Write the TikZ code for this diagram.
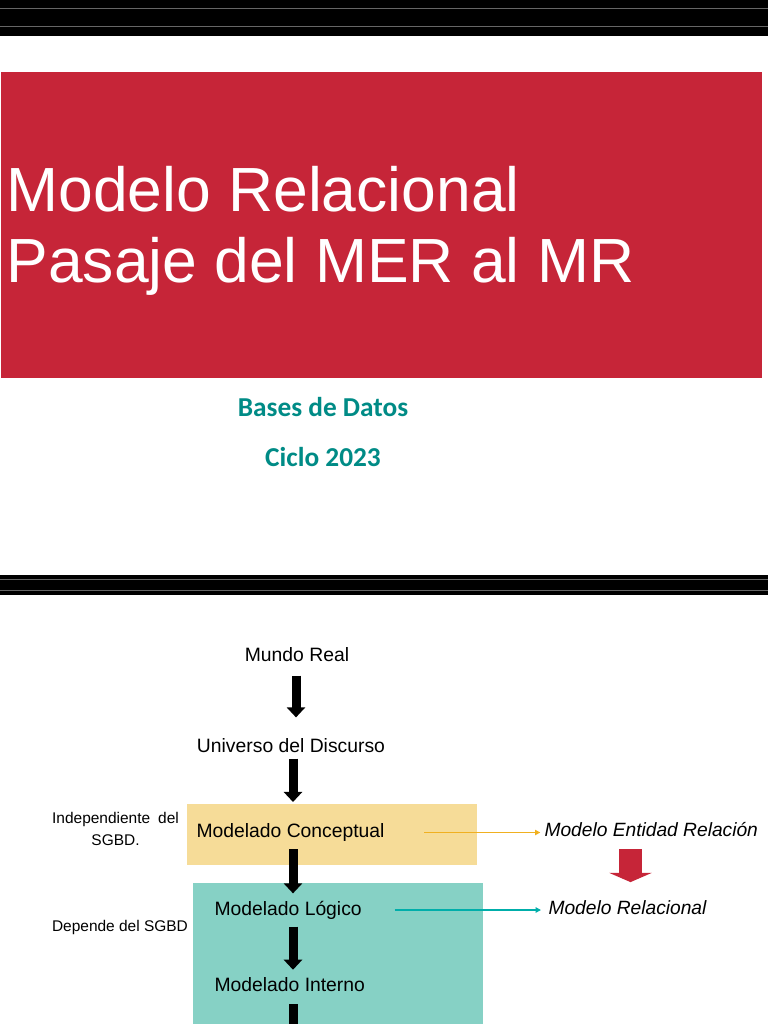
\documentclass[tikz,border=0pt]{standalone}
\usepackage{fontspec}
\setmainfont{Liberation Sans}
\newfontfamily\carlitofont{Carlito}
\usetikzlibrary{arrows.meta}

\definecolor{titlered}{RGB}{198,37,56}
\definecolor{titleteal}{RGB}{0,139,134}
\definecolor{boxyellow}{RGB}{246,220,152}
\definecolor{boxteal}{RGB}{134,209,197}
\definecolor{lineorange}{RGB}{240,176,32}
\definecolor{lineteal}{RGB}{0,174,170}

\tikzset{every picture/.style={line width=0.75pt}}
\tikzset{
  blockarrow/.style={line width=6.75pt,-{Triangle[width=13.5pt,length=7.5pt]}},
  redarrow/.style={line width=17pt,titlered,-{Triangle[width=32pt,length=7pt]}},
  thinarrow/.style={line width=1pt,-{Triangle[width=4pt,length=4pt]}},
  flowtext/.style={inner sep=0.75pt,font=\fontsize{14.5pt}{17pt}\selectfont},
  sidetext/.style={inner sep=0.75pt,font=\fontsize{11.6pt}{16.5pt}\selectfont,align=center},
  modeltext/.style={inner sep=0.75pt,font=\fontsize{14.4pt}{17pt}\selectfont\itshape},
  subtitletext/.style={inner sep=0.75pt,text=titleteal,font=\fontsize{20.5pt}{24pt}\selectfont\carlitofont\bfseries},
  titletext/.style={inner sep=0.75pt,text=white,align=left,font=\fontsize{46.8pt}{53.5pt}\selectfont},
  greyline/.style={line width=0.75pt,black!60!white}
}

\begin{document}
\begin{tikzpicture}[x=0.75pt,y=0.75pt,yscale=-1,xscale=1]
\useasboundingbox (0,0) rectangle (768,1024);
\clip (0,0) rectangle (768,1024);

%Shape: Rectangle [bars] 
\fill [black] (0,0) rectangle (768,36);
\draw [greyline] (0,8.5) -- (768,8.5);
\draw [greyline] (0,26.5) -- (768,26.5);
\fill [black] (0,575) rectangle (768,595);
\draw [greyline] (0,579.5) -- (768,579.5);
\draw [greyline] (0,590.5) -- (768,590.5);

%Shape: Rectangle [title and model boxes] 
\fill [titlered] (1,72) rectangle (762,378);
\fill [boxyellow] (187,804) rectangle (477,864.5);
\fill [boxteal] (193,883) rectangle (483,1030);

% Text Node
\draw (5,231) node (title) [anchor=west] [titletext] {Modelo Relacional\\Pasaje del MER al MR};
% Text Node
\draw (323,407) node (bases) [subtitletext] {Bases de Datos};
% Text Node
\draw (323,457) node (ciclo) [subtitletext] {Ciclo 2023};

% Text Node
\draw (297,655) node (mundo) [flowtext] {Mundo Real};
% Text Node
\draw (291,746) node (universo) [flowtext] {Universo del Discurso};
% Text Node
\draw (195,832.5) node (conceptual) [anchor=west] [flowtext] {Modelado Conceptual};
% Text Node
\draw (213,910) node (logico) [anchor=west] [flowtext] {Modelado Lógico};
% Text Node
\draw (213,985) node (interno) [anchor=west] [flowtext] {Modelado Interno};
% Text Node
\draw (543,830) node (entidad) [anchor=west] [modeltext] {Modelo Entidad Relación};
% Text Node
\draw (547,908) node (relacional) [anchor=west] [modeltext] {Modelo Relacional};
% Text Node
\draw (115.5,829) node (independiente) [sidetext] {\makebox[95pt][s]{Independiente\hfill del}\\SGBD.\hspace{4pt}};
% Text Node
\draw (120,927.5) node (depende) [sidetext] {Depende del SGBD};

% Arrow columns
\coordinate (cola) at (296,0);
\coordinate (colb) at (293,0);
\coordinate (colc) at (630.5,0);
\coordinate (belowpage) at (293,1040);

% Block arrows
\draw [blockarrow,shorten <=9pt,shorten >=15pt] (mundo.south -| cola) -- (universo.north -| cola);
\draw [blockarrow,shorten <=3pt,shorten >=15pt] (universo.south -| colb) -- (conceptual.north -| colb);
\draw [blockarrow,shorten <=4.5pt,shorten >=4.5pt] (conceptual.south -| colb) -- (logico.north -| colb);
\draw [blockarrow,shorten <=4.5pt,shorten >=5pt] (logico.south -| colb) -- (interno.north -| colb);
\draw [line width=6.75pt,shorten <=8pt] (interno.south -| colb) -- (belowpage);
\draw [redarrow,shorten <=8pt,shorten >=13pt] (entidad.south -| colc) -- (relacional.north -| colc);

% Thin arrows
\draw [thinarrow,lineorange,shorten <=28.5pt,shorten >=2pt] (conceptual.east) -- (conceptual.east -| entidad.west);
\draw [thinarrow,lineteal,shorten <=23.5pt,shorten >=4.5pt] (logico.east) -- (logico.east -| relacional.west);

\end{tikzpicture}
\end{document}
